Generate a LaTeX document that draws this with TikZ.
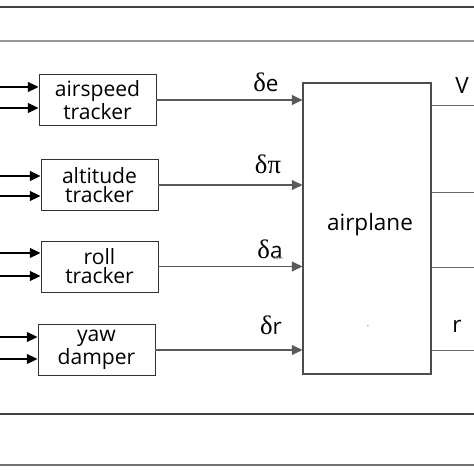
\documentclass[tikz,border=0pt]{standalone}
\usepackage{fontspec}
\setmainfont{Open Sans}
\newfontfamily\grk{Liberation Serif}
\usetikzlibrary{arrows.meta}
\usetikzlibrary{decorations.pathmorphing}

\begin{document}
\begin{tikzpicture}[x=0.025cm,y=-0.025cm,
    block/.style={draw=black!80, line width=0.7pt, minimum width=117*0.025cm, minimum height=51*0.025cm,
      align=center, font=\fontsize{15}{13.5}\selectfont, inner sep=0pt},
    arr/.style={draw=black, line width=0.75pt, -{Triangle[length=7.5pt,width=7pt]}},
    wire/.style={draw=black!60, line width=0.6pt},
    sig/.style={font=\fontsize{16}{16}\selectfont}]
    \useasboundingbox (0,0) rectangle (474,474);
    \fill[white] (0,0) rectangle (474,474);
    \draw[black!75, line width=1.2pt] (0,7) -- (474,7);  %Rahmen oben
    \draw[black!40, line width=0.8pt] (0,41) -- (474,41);
    \draw[black!75, line width=1pt] (0,414) -- (474,414);  %Rahmen unten
    \draw[black!55, line width=1.6pt] (0,465) -- (474,465);
    % Regler
    \node[block] (spd) at (97.5,100) {airspeed\\tracker};
    \node[block] (alt) at (99.5,185) {altitude\\tracker};
    \node[block] (rol) at (99.5,266.5) {roll\\tracker};
    \node[block] (yaw) at (96.5,350) {yaw\\damper};
    % Flugzeug
    \node[draw=black!70, line width=0.8pt, minimum width=128*0.025cm, minimum height=291*0.025cm, inner sep=0pt]
      (plane) at (367,228.5) {};
    \node[sig] (pname) at (370,225) {airplane};
    \node[font=\tiny] (pdot) at (368,326) {.};
    % Eingaenge der Regler
    \foreach \blk/\ya/\yb in {spd/87/108, alt/176/196, rol/253/276, yaw/337/359}
    {
      \draw[arr] (0,\ya) -- (0,\ya -| \blk.west);
      \draw[arr] (0,\yb) -- (0,\yb -| \blk.west);
    };
    % Stellgroessen
    \foreach \blk in {spd,alt,rol,yaw}
      \draw[arr, draw=black!65] (\blk.east) -- (\blk.east -| plane.west);
    \node[sig] (de) at (266,82) {{\grk\fontsize{19}{19}\selectfont δ}e};
    \node[sig] (dp) at (268,164) {{\grk\fontsize{19}{19}\selectfont δπ}};
    \node[sig] (da) at (270,249) {{\grk\fontsize{19}{19}\selectfont δ}a};
    \node[sig] (dr) at (271,325) {{\grk\fontsize{19}{19}\selectfont δ}r};
    \draw[black!45, line width=0.4pt, decorate, decoration={snake, amplitude=0.6pt, segment length=2pt}]
      (272,258) -- (283,258);
    % Ausgaenge
    \foreach \y in {105,192,267,350}
      \draw[wire] (plane.east |- 0,\y) -- (474,\y);
    \node[sig] (vout) at (462,85) {V};
    \node[sig] (rout) at (457,326) {r};
  \end{tikzpicture}
\end{document}
